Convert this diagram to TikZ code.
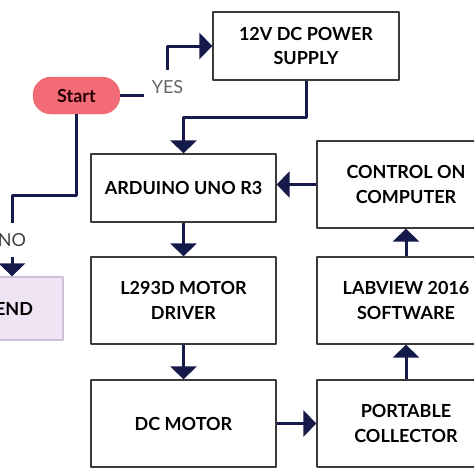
\documentclass[tikz,border=0pt]{standalone}
\usepackage{fontspec}
\setmainfont{Lato}
\usetikzlibrary{arrows.meta,positioning}
\definecolor{navy}{HTML}{151A4A}
\definecolor{boxgray}{HTML}{3A3A3A}
\definecolor{startred}{HTML}{F26B76}
\definecolor{endfill}{HTML}{EEE4F3}
\definecolor{endline}{HTML}{CDBFD6}
\begin{document}
\begin{tikzpicture}[x=1pt,y=-1pt,font=\bfseries\fontsize{18}{24.5}\selectfont,line join=round,
    blockbox/.style={draw=boxgray,line width=1.3pt,minimum width=185pt,minimum height=87pt,align=center,inner sep=0pt},
    startbox/.style={draw=startred!95!black,fill=startred,rounded corners=18pt,minimum width=87pt,minimum height=37pt,text=black!85!red},
    endbox/.style={draw=endline,fill=endfill,line width=1.3pt,minimum width=98pt,minimum height=63pt},
    tagtext/.style={font=\fontsize{18}{20}\selectfont,text=black!60,inner xsep=8pt,inner ysep=10pt},
    flow/.style={draw=navy,line width=3pt},
    >={Triangle[width=26pt,length=13pt]}]
    \useasboundingbox (0,0) rectangle (474,474);
    \clip (0,0) rectangle (474,474);
    % blocks
    \node[blockbox,minimum width=186pt,minimum height=68pt] (power) at (306,46) {12V DC POWER\\SUPPLY};
    \node[startbox] (start) at (76.5,95.5) {Start};
    \node[tagtext] (yes) at (167.5,87) {YES};
    \node[blockbox,minimum height=68pt] (ard) at (183.5,188) {ARDUINO UNO R3};
    \node[blockbox,minimum width=178pt] (ctrl) at (406,184.5) {CONTROL ON\\COMPUTER};
    \node[blockbox] (drv) at (183.5,300.5) {L293D MOTOR\\DRIVER};
    \node[blockbox,minimum width=178pt] (lab) at (406,300.5) {LABVIEW 2016\\SOFTWARE};
    \node[blockbox] (motor) at (183.5,423.5) {DC MOTOR};
    \node[blockbox,minimum width=178pt] (coll) at (406,423.5) {PORTABLE\\COLLECTOR};
    \node[tagtext,text=black!75] (no) at (12,240) {NO};
    \node[endbox] (end) at (14,308.5) {END};
    % connectors
    \draw[flow] (start.east) -- (start.east -| yes.west);
    \draw[flow,->] (yes.north) |- (power.west);
    \draw[flow,->] (power.south) -- ++(0,37) -| (ard.north);
    \draw[flow] (start.south) -- ++(0,81) -| (no.north);
    \draw[flow,->] (no.south) -- (no.south |- end.north);
    \draw[flow,->] (ctrl.west) -- (ctrl.west -| ard.east);
    \foreach\a/\b in{ard/drv,drv/motor}{\draw[flow,->] (\a.south) -- (\b.north);}
    \foreach\a/\b in{coll/lab,lab/ctrl}{\draw[flow,->] (\a.north) -- (\b.south);}
    \draw[flow,->] (motor.east) -- (coll.west);
\end{tikzpicture}
\end{document}
